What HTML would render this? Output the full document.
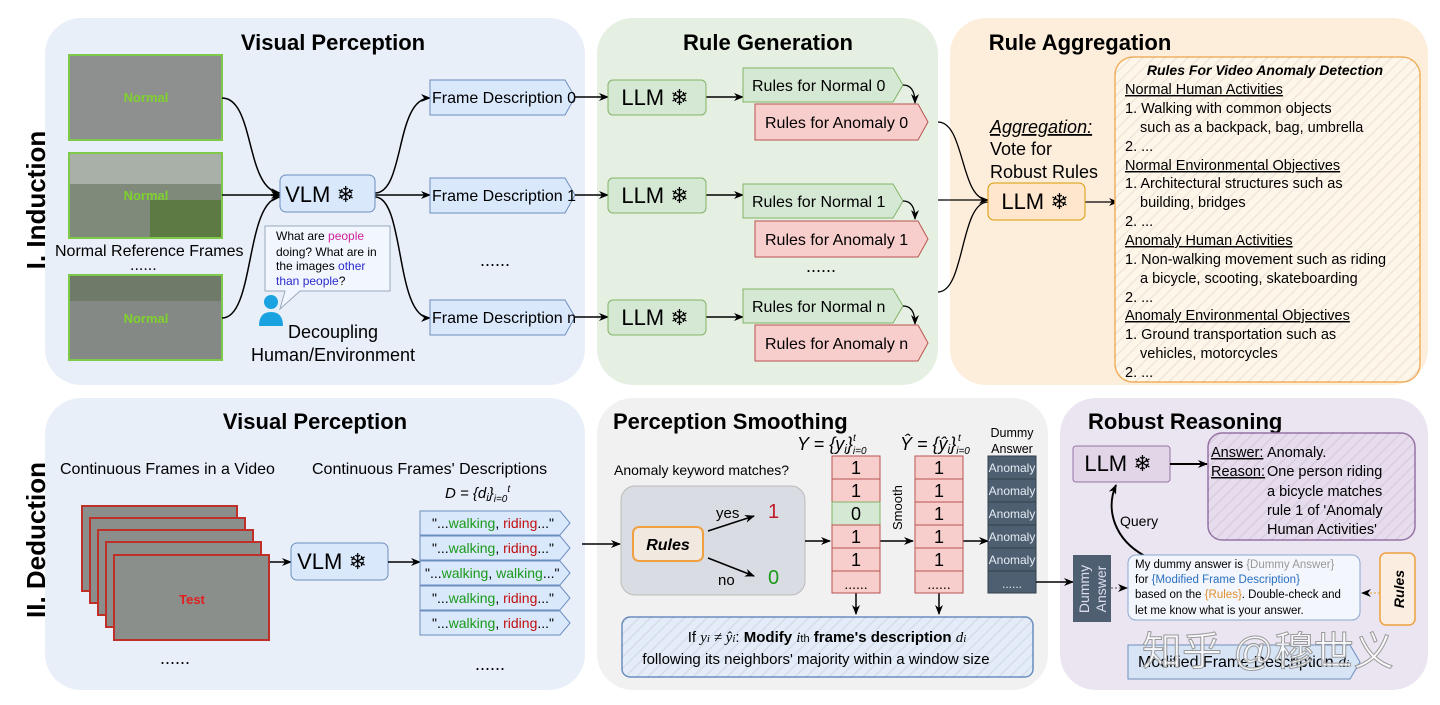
<!DOCTYPE html>
<html><head><meta charset="utf-8"><style>
html,body{margin:0;padding:0;background:#fff;width:1440px;height:705px;overflow:hidden}
svg text{font-family:"Liberation Sans","Noto Sans CJK SC",sans-serif}
</style></head><body>
<svg width="1440" height="705" viewBox="0 0 1440 705" xmlns="http://www.w3.org/2000/svg">
<defs>
<marker id="a" markerWidth="10" markerHeight="8" refX="9" refY="4" orient="auto" markerUnits="userSpaceOnUse"><path d="M0,0 L10,4 L0,8 L3,4z" fill="#000"/></marker>
<pattern id="h" width="8" height="8" patternUnits="userSpaceOnUse" patternTransform="rotate(45)"><line x1="0" y1="0" x2="0" y2="8" stroke="#00000010" stroke-width="3"/></pattern>
</defs>
<rect x="45" y="18" width="540" height="367" rx="36" fill="#e9eff9"/>
<rect x="597" y="18" width="341" height="367" rx="36" fill="#e5f0e3"/>
<rect x="950" y="18" width="478" height="367" rx="36" fill="#fdeedc"/>
<rect x="45" y="398" width="540" height="292" rx="36" fill="#e9eff9"/>
<rect x="597" y="398" width="451" height="292" rx="36" fill="#f1f1f1"/>
<rect x="1060" y="398" width="368" height="292" rx="36" fill="#ebe5f1"/>
<text x="45" y="200" font-size="26" font-weight="bold" transform="rotate(-90 45 200)" text-anchor="middle">I. Induction</text>
<text x="45" y="540" font-size="26" font-weight="bold" transform="rotate(-90 45 540)" text-anchor="middle">II. Deduction</text>
<g font-size="22" font-weight="bold" text-anchor="middle">
<text x="333" y="50">Visual Perception</text><text x="768" y="50">Rule Generation</text><text x="1080" y="50">Rule Aggregation</text>
<text x="315" y="429">Visual Perception</text></g>
<text x="613" y="429" font-size="22" font-weight="bold">Perception Smoothing</text>
<text x="1088" y="429" font-size="22" font-weight="bold">Robust Reasoning</text>
<g stroke="#7ec94a" stroke-width="2">
<rect x="69" y="55" width="153" height="85" fill="#8e9090"/>
<rect x="69" y="153" width="153" height="85" fill="#7f8a7a"/>
<rect x="69" y="275" width="153" height="85" fill="#858985"/></g>
<rect x="70" y="154" width="151" height="30" fill="#a9b0a8"/><rect x="150" y="200" width="71" height="37" fill="#5d7a43"/>
<rect x="70" y="276" width="151" height="25" fill="#6f7a68"/>
<g font-size="13" font-weight="bold" fill="#7fd22d" text-anchor="middle"><text x="146" y="102">Normal</text><text x="146" y="200">Normal</text><text x="146" y="323">Normal</text></g>
<text x="55" y="256" font-size="16">Normal Reference Frames</text>
<text x="130" y="270" font-size="16">......</text>
<g fill="none" stroke="#000" stroke-width="1.5">
<path d="M222,98 C255,98 245,190 280,193" marker-end="url(#a)"/>
<path d="M222,195 L280,195" marker-end="url(#a)"/>
<path d="M222,318 C255,318 245,200 280,197" marker-end="url(#a)"/>
<path d="M375,193 C405,193 395,98 430,98" marker-end="url(#a)"/>
<path d="M375,195 L430,195" marker-end="url(#a)"/>
<path d="M375,197 C405,197 395,318 430,318" marker-end="url(#a)"/>
</g>
<rect x="280" y="175" width="95" height="37" rx="6" fill="#dae8fc" stroke="#6c8ebf"/>
<text x="320" y="202" font-size="22" text-anchor="middle">VLM ❄</text>
<path d="M265,226 h125 v65 h-90 l-20,18 l5,-18 h-20z" fill="#f2f7ff" stroke="#9ab" />
<g font-size="12"><text x="276" y="240">What are <tspan fill="#d0209a">people</tspan></text><text x="276" y="256">doing? What are in</text><text x="276" y="270">the images <tspan fill="#2a2acc">other</tspan></text><text x="276" y="285" fill="#2a2acc">than people<tspan fill="#000">?</tspan></text></g>
<circle cx="271" cy="302" r="7" fill="#1aa3e0"/><path d="M259,326 q0,-14 12,-14 q12,0 12,14z" fill="#1aa3e0"/>
<text x="333" y="338" font-size="18" text-anchor="middle">Decoupling</text>
<text x="333" y="361" font-size="18" text-anchor="middle">Human/Environment</text>
<g fill="#dae8fc" stroke="#6c8ebf">
<path d="M430,80 h135 l10,17 l-10,18 h-135z"/><path d="M430,178 h135 l10,17 l-10,18 h-135z"/><path d="M430,300 h135 l10,17 l-10,18 h-135z"/></g>
<g font-size="16"><text x="432" y="103">Frame Description 0</text><text x="432" y="201">Frame Description 1</text><text x="432" y="323">Frame Description n</text></g>
<text x="480" y="266" font-size="18">......</text>
<g stroke="#000" stroke-width="1.5" marker-end="url(#a)"><line x1="575" y1="97" x2="608" y2="97"/><line x1="575" y1="195" x2="608" y2="195"/><line x1="575" y1="317" x2="608" y2="317"/>
<line x1="706" y1="97" x2="743" y2="97"/><line x1="706" y1="195" x2="743" y2="195"/><line x1="706" y1="317" x2="743" y2="317"/></g>
<g fill="#d5e8d4" stroke="#82b366"><rect x="608" y="80" width="98" height="35" rx="5"/><rect x="608" y="178" width="98" height="35" rx="5"/><rect x="608" y="300" width="98" height="35" rx="5"/></g>
<g font-size="22" text-anchor="middle"><text x="655" y="105">LLM ❄</text><text x="655" y="203">LLM ❄</text><text x="655" y="325">LLM ❄</text></g>
<g fill="#f8cecc" stroke="#b85450"><path d="M755,104 h163 l10,18 l-10,18 h-163z"/><path d="M755,221 h163 l10,18 l-10,18 h-163z"/><path d="M755,325 h163 l10,18 l-10,18 h-163z"/></g>
<g fill="#d5e8d4" stroke="#82b366"><path d="M743,68 h150 l10,17 l-10,17 h-150z"/><path d="M743,184 h150 l10,17 l-10,17 h-150z"/><path d="M743,289 h150 l10,17 l-10,17 h-150z"/></g>
<g font-size="16"><text x="752" y="91">Rules for Normal 0</text><text x="765" y="128">Rules for Anomaly 0</text><text x="752" y="207">Rules for Normal 1</text><text x="765" y="245">Rules for Anomaly 1</text><text x="752" y="312">Rules for Normal n</text><text x="765" y="349">Rules for Anomaly n</text></g>
<g fill="none" stroke="#000" stroke-width="1.3"><path d="M903,85 q12,0 12,18" marker-end="url(#a)"/><path d="M903,201 q12,0 12,18" marker-end="url(#a)"/><path d="M903,306 q12,0 12,18" marker-end="url(#a)"/>
<path d="M938,122 C965,122 960,200 988,200" marker-end="url(#a)"/><path d="M938,200 L988,200"/><path d="M938,292 C965,292 960,202 988,202"/>
<path d="M1085,202 L1118,202" marker-end="url(#a)"/></g>
<text x="806" y="272" font-size="18">......</text>
<text x="990" y="133" font-size="18" font-style="italic" text-decoration="underline">Aggregation:</text>
<text x="990" y="155" font-size="18">Vote for</text><text x="990" y="178" font-size="18">Robust Rules</text>
<rect x="988" y="183" width="97" height="37" rx="6" fill="#ffe6cc" stroke="#d79b00"/>
<text x="1035" y="209" font-size="22" text-anchor="middle">LLM ❄</text>
<rect x="1115" y="57" width="305" height="325" rx="18" fill="#fff6ea" stroke="#f0b060" stroke-width="1.5"/>
<rect x="1115" y="57" width="305" height="325" rx="18" fill="url(#h)"/>
<g font-size="14.5">
<text x="1265" y="75" text-anchor="middle" font-weight="bold" font-style="italic" font-size="14">Rules For Video Anomaly Detection</text>
<text x="1125" y="94" text-decoration="underline">Normal Human Activities</text>
<text x="1125" y="113">1. Walking with common objects</text><text x="1140" y="132">such as a backpack, bag, umbrella</text><text x="1125" y="151">2. ...</text>
<text x="1125" y="170" text-decoration="underline">Normal Environmental Objectives</text>
<text x="1125" y="188">1. Architectural structures such as</text><text x="1140" y="207">building, bridges</text><text x="1125" y="226">2. ...</text>
<text x="1125" y="245" text-decoration="underline">Anomaly Human Activities</text>
<text x="1125" y="264">1. Non-walking movement such as riding</text><text x="1140" y="283">a bicycle, scooting, skateboarding</text><text x="1125" y="302">2. ...</text>
<text x="1125" y="320" text-decoration="underline">Anomaly Environmental Objectives</text>
<text x="1125" y="339">1. Ground transportation such as</text><text x="1140" y="358">vehicles, motorcycles</text><text x="1125" y="377">2. ...</text></g>
<text x="60" y="474" font-size="16">Continuous Frames in a Video</text>
<text x="312" y="474" font-size="16">Continuous Frames' Descriptions</text>
<text x="445" y="498" font-size="15" font-style="italic" font-family="Liberation Serif">D = {d<tspan font-size="11" dy="3">i</tspan><tspan dy="-3">}</tspan><tspan font-size="10" dy="4">i=0</tspan><tspan font-size="10" dy="-10">t</tspan></text>
<g fill="#8a8f8c" stroke="#c0302a" stroke-width="2">
<rect x="82" y="506" width="155" height="85"/><rect x="90" y="518" width="155" height="85"/><rect x="98" y="530" width="155" height="85"/><rect x="106" y="542" width="155" height="85"/><rect x="114" y="555" width="155" height="85"/></g>
<text x="192" y="604" font-size="13" font-weight="bold" fill="#e02020" text-anchor="middle">Test</text>
<text x="160" y="664" font-size="18">......</text>
<line x1="270" y1="562" x2="291" y2="562" stroke="#000" stroke-width="1.5" marker-end="url(#a)"/>
<rect x="291" y="543" width="97" height="37" rx="6" fill="#dae8fc" stroke="#6c8ebf"/>
<text x="332" y="569" font-size="22" text-anchor="middle">VLM ❄</text>
<line x1="388" y1="562" x2="420" y2="562" stroke="#000" stroke-width="1.5" marker-end="url(#a)"/>
<g fill="#dae8fc" stroke="#6c8ebf"><path d="M420,511 h140 l10,12 l-10,12 h-140z"/><path d="M420,536 h140 l10,12 l-10,12 h-140z"/><path d="M420,561 h140 l10,12 l-10,12 h-140z"/><path d="M420,586 h140 l10,12 l-10,12 h-140z"/><path d="M420,611 h140 l10,12 l-10,12 h-140z"/></g>
<g font-size="14"><text x="432" y="528">"...<tspan fill="#1a9a1a">walking</tspan>, <tspan fill="#c01010">riding</tspan>..."</text>
<text x="432" y="553">"...<tspan fill="#1a9a1a">walking</tspan>, <tspan fill="#c01010">riding</tspan>..."</text>
<text x="425" y="578">"...<tspan fill="#1a9a1a">walking</tspan>, <tspan fill="#1a9a1a">walking</tspan>..."</text>
<text x="432" y="603">"...<tspan fill="#1a9a1a">walking</tspan>, <tspan fill="#c01010">riding</tspan>..."</text>
<text x="432" y="628">"...<tspan fill="#1a9a1a">walking</tspan>, <tspan fill="#c01010">riding</tspan>..."</text></g>
<text x="475" y="670" font-size="18">......</text>
<line x1="582" y1="544" x2="620" y2="544" stroke="#000" stroke-width="1.5" marker-end="url(#a)"/>
<text x="614" y="475" font-size="14">Anomaly keyword matches?</text>
<rect x="621" y="486" width="184" height="109" rx="14" fill="#d9dce2" stroke="#bbb"/>
<rect x="633" y="527" width="70" height="34" rx="6" fill="#f1e9e0" stroke="#f0a040" stroke-width="2"/>
<text x="668" y="550" font-size="16" font-weight="bold" font-style="italic" text-anchor="middle">Rules</text>
<g stroke="#000" stroke-width="1.5" marker-end="url(#a)"><line x1="708" y1="531" x2="754" y2="516"/><line x1="708" y1="558" x2="754" y2="576"/><line x1="805" y1="541" x2="830" y2="541"/><line x1="880" y1="541" x2="913" y2="541"/><line x1="963" y1="541" x2="988" y2="541"/><line x1="856" y1="593" x2="856" y2="614"/><line x1="939" y1="593" x2="939" y2="614"/></g>
<text x="716" y="518" font-size="15">yes</text><text x="718" y="585" font-size="15">no</text>
<text x="768" y="518" font-size="20" fill="#c01a2a">1</text><text x="768" y="584" font-size="20" fill="#1a9a1a">0</text>
<text x="797" y="450" font-size="18" font-style="italic" font-family="Liberation Serif">Y = {y<tspan font-size="12" dy="3">i</tspan><tspan dy="-3">}</tspan><tspan font-size="10" dy="4">i=0</tspan></text>
<text x="853" y="441" font-size="10" font-style="italic" font-family="Liberation Serif">t</text>
<text x="900" y="450" font-size="18" font-style="italic" font-family="Liberation Serif">Ŷ = {ŷ<tspan font-size="12" dy="3">i</tspan><tspan dy="-3">}</tspan><tspan font-size="10" dy="4">i=0</tspan></text>
<text x="958" y="441" font-size="10" font-style="italic" font-family="Liberation Serif">t</text>
<text x="1012" y="437" font-size="12.5" text-anchor="middle">Dummy</text><text x="1012" y="453" font-size="12.5" text-anchor="middle">Answer</text>
<g stroke="#b85450" fill="#f8cecc">
<rect x="832" y="456" width="48" height="23"/><rect x="832" y="479" width="48" height="23"/><rect x="832" y="502" width="48" height="23" fill="#d5e8d4" stroke="#82b366"/><rect x="832" y="525" width="48" height="23"/><rect x="832" y="548" width="48" height="23"/><rect x="832" y="571" width="48" height="22"/>
<rect x="915" y="456" width="48" height="23"/><rect x="915" y="479" width="48" height="23"/><rect x="915" y="502" width="48" height="23"/><rect x="915" y="525" width="48" height="23"/><rect x="915" y="548" width="48" height="23"/><rect x="915" y="571" width="48" height="22"/></g>
<g stroke="#33404d" fill="#4d5f71"><rect x="988" y="456" width="48" height="23"/><rect x="988" y="479" width="48" height="23"/><rect x="988" y="502" width="48" height="23"/><rect x="988" y="525" width="48" height="23"/><rect x="988" y="548" width="48" height="23"/><rect x="988" y="571" width="48" height="22"/></g>
<g font-size="18" text-anchor="middle"><text x="856" y="474">1</text><text x="856" y="497">1</text><text x="856" y="520">0</text><text x="856" y="543">1</text><text x="856" y="566">1</text><text x="856" y="589" font-size="14">......</text>
<text x="939" y="474">1</text><text x="939" y="497">1</text><text x="939" y="520">1</text><text x="939" y="543">1</text><text x="939" y="566">1</text><text x="939" y="589" font-size="14">......</text></g>
<g font-size="12" fill="#e6ecf2" text-anchor="middle"><text x="1012" y="472">Anomaly</text><text x="1012" y="495">Anomaly</text><text x="1012" y="518">Anomaly</text><text x="1012" y="541">Anomaly</text><text x="1012" y="564">Anomaly</text><text x="1012" y="588">......</text></g>
<text x="902" y="530" font-size="13" transform="rotate(-90 902 530)">Smooth</text>
<rect x="622" y="617" width="411" height="60" rx="8" fill="#e3ecf8" stroke="#6c8ebf" stroke-width="1.5"/>
<rect x="622" y="617" width="411" height="60" rx="8" fill="url(#h)"/>
<text x="827" y="642" font-size="15" text-anchor="middle">If <tspan font-style="italic" font-family="Liberation Serif">y<tspan font-size="11">i</tspan> ≠ ŷ<tspan font-size="11">i</tspan></tspan>: <tspan font-weight="bold">Modify <tspan font-style="italic" font-family="Liberation Serif" font-weight="normal">i</tspan><tspan font-size="11" font-weight="normal">th</tspan>  frame's description  <tspan font-style="italic" font-family="Liberation Serif" font-weight="normal">d<tspan font-size="11">i</tspan></tspan></tspan></text>
<text x="816" y="664" font-size="15" text-anchor="middle">following its neighbors' majority within a window size</text>
<line x1="1036" y1="582" x2="1073" y2="582" stroke="#000" stroke-width="1.5" marker-end="url(#a)"/>
<rect x="1073" y="446" width="97" height="36" rx="3" fill="#e1d5e7" stroke="#9673a6"/>
<text x="1118" y="471" font-size="22" text-anchor="middle">LLM ❄</text>
<line x1="1170" y1="464" x2="1207" y2="464" stroke="#000" stroke-width="2" marker-end="url(#a)"/>
<rect x="1208" y="433" width="207" height="107" rx="14" fill="#e7dced" stroke="#9673a6" stroke-width="1.5"/>
<rect x="1208" y="433" width="207" height="107" rx="14" fill="url(#h)"/>
<g font-size="14.5"><text x="1211" y="457" text-decoration="underline">Answer:</text><text x="1267" y="457">Anomaly.</text>
<text x="1211" y="476" text-decoration="underline">Reason:</text><text x="1267" y="476">One person riding</text><text x="1267" y="496">a bicycle matches</text><text x="1267" y="515">rule 1 of 'Anomaly</text><text x="1267" y="534">Human Activities'</text></g>
<path d="M1145,556 C1115,540 1105,510 1116,485" fill="none" stroke="#000" stroke-width="2" marker-end="url(#a)"/>
<text x="1120" y="526" font-size="14">Query</text>
<rect x="1073" y="555" width="38" height="67" fill="#4d5f71"/>
<text x="1089" y="589" font-size="14" fill="#dde" text-anchor="middle" transform="rotate(-90 1089 589)">Dummy</text>
<text x="1106" y="589" font-size="14" fill="#dde" text-anchor="middle" transform="rotate(-90 1106 589)">Answer</text>
<line x1="1111" y1="588" x2="1127" y2="588" stroke="#555" stroke-dasharray="2,2" marker-end="url(#a)"/>
<rect x="1128" y="555" width="232" height="65" rx="8" fill="#f3f6fc" stroke="#8aa8d0"/>
<g font-size="11.5"><text x="1135" y="568">My dummy answer is <tspan fill="#999">{Dummy Answer}</tspan></text>
<text x="1135" y="583">for <tspan fill="#2a6fc0">{Modified Frame Description}</tspan></text>
<text x="1135" y="598">based on the <tspan fill="#e09030">{Rules}</tspan>. Double-check and</text>
<text x="1135" y="614">let me know what is your answer.</text></g>
<rect x="1380" y="553" width="35" height="72" rx="6" fill="#fbeee0" stroke="#f0a040" stroke-width="1.5"/>
<text x="1404" y="589" font-size="14" font-weight="bold" font-style="italic" text-anchor="middle" transform="rotate(-90 1404 589)">Rules</text>
<line x1="1380" y1="593" x2="1362" y2="593" stroke="#e0a020" stroke-dasharray="2,2" marker-end="url(#a)"/>
<path d="M1128,645 h222 l10,17 l-10,17 h-222z" fill="#d7e4f6" stroke="#6c8ebf"/>
<text x="1138" y="667" font-size="16">Modified Frame Description <tspan font-style="italic" font-family="Liberation Serif">d<tspan font-size="11">i</tspan></tspan></text>
<text x="1142" y="665" font-size="40" fill="#ffffff" fill-opacity="0.75" stroke="#9a9a9a" stroke-width="1" font-family="Noto Sans CJK SC,sans-serif">知乎 @穆世义</text>
</svg>
</body></html>
